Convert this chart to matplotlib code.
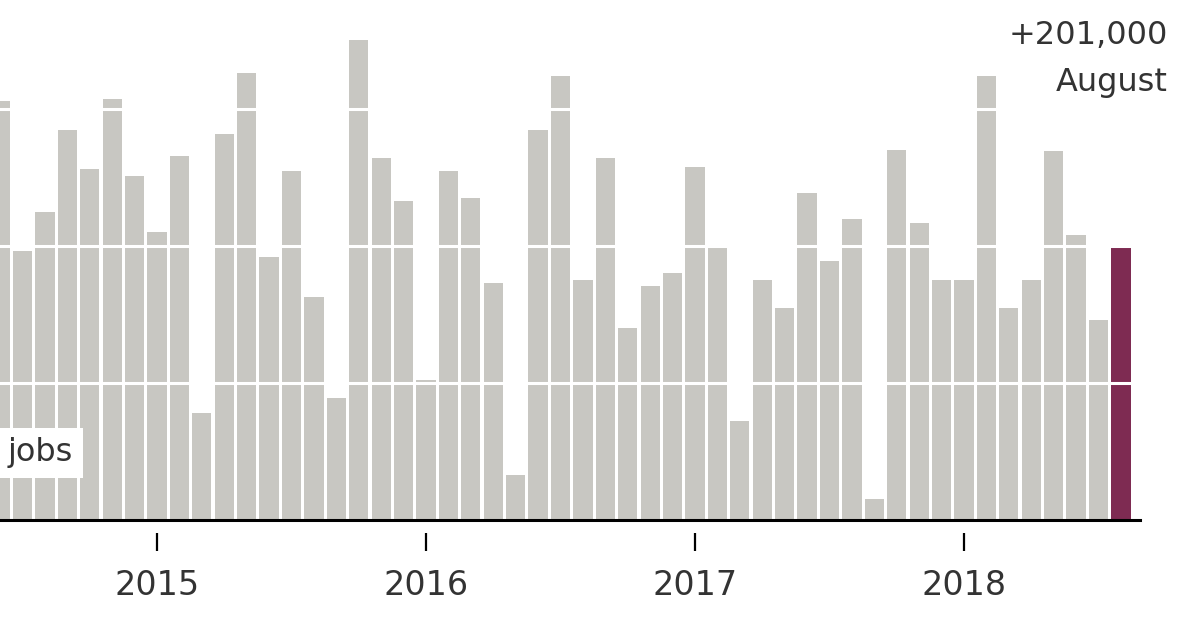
import numpy as np
import matplotlib.pyplot as plt

# monthly change in jobs, thousands, Jun 2014 .. Aug 2018
jobs = [
    306, 196, 225, 285, 256, 307, 251,                      # 2014 Jun-Dec
    210, 266, 78, 282, 326, 192, 255, 163, 89, 350, 264, 233,   # 2015
    102, 255, 235, 173, 33, 285, 324, 175, 264, 140, 171, 180,  # 2016
    258, 200, 72, 175, 155, 239, 189, 220, 15, 270, 217, 175,   # 2017
    175, 324, 155, 175, 269, 208, 146, 201,                 # 2018 Jan-Aug
]
year_ticks = [7, 19, 31, 43]
year_labels = ["2015", "2016", "2017", "2018"]
grid_vals = [100, 200, 300]
latest_month = "August"

plt.rcParams['font.family'] = ['DejaVu Sans']
text_color = '#333333'

fig = plt.figure(figsize=(12, 6.28), dpi=100)
ax = fig.add_axes([0, 108 / 628, 1140 / 1200, 520 / 628])

x = np.arange(len(jobs))
colors = ['#c8c7c2'] * (len(jobs) - 1) + ['#7e2b52']
ax.bar(x, jobs, width=0.86, color=colors, zorder=1)

for g in grid_vals:
    ax.axhline(g, color='white', lw=2.2, zorder=2)
ax.axhline(0, color='black', lw=2.2, zorder=3, clip_on=False)

ax.set_xlim(-0.004, 50.85)
ax.set_ylim(0, 520 / 1.37)

for s in ax.spines.values():
    s.set_visible(False)
ax.spines['bottom'].set_position(('outward', 9))
ax.set_yticks([])
ax.set_xticks(year_ticks)
ax.set_xticklabels(year_labels)
ax.tick_params(axis='x', direction='out', length=13, width=1.6, color='black',
               pad=13, labelsize=24, labelcolor=text_color)

fig.text(8 / 1200, 1 - 453 / 628, "jobs", ha='left', va='center', fontsize=23,
         color=text_color, bbox=dict(boxstyle='square,pad=0.3', fc='white', ec='none'))

fig.text(1168 / 1200, 1 - 36 / 628, f"+{jobs[-1] * 1000:,}", ha='right', va='center',
         fontsize=23, color=text_color)
fig.text(1168 / 1200, 1 - 82 / 628, latest_month, ha='right', va='center',
         fontsize=23, color=text_color)

fig.savefig("out.png", dpi=100)
